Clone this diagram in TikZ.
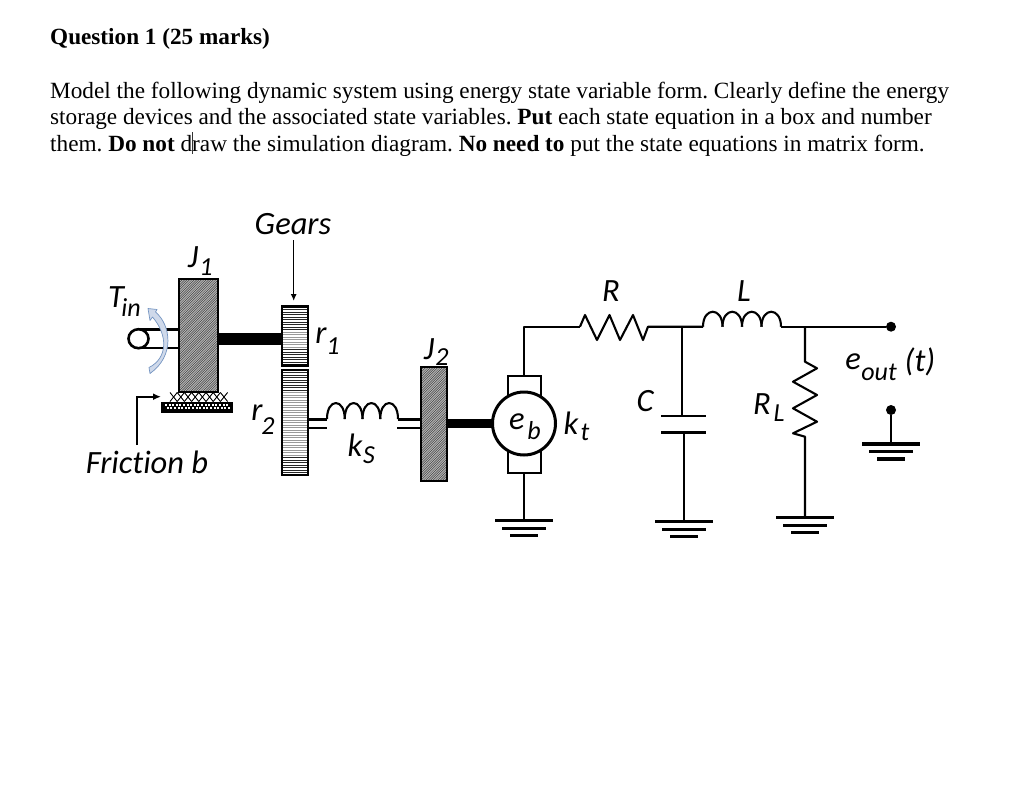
\documentclass[tikz,border=0pt]{standalone}
\usepackage{fontspec}
\setmainfont{Liberation Serif}
\newfontfamily\lab{Carlito}
\usetikzlibrary{shapes.geometric,calc,arrows.meta}
\definecolor{arrowfill}{HTML}{CFD9EA}
\definecolor{arrowline}{HTML}{7595C2}
\tikzset{
  x=1pt,y=-1pt,
  wire/.style={line width=2.1pt,line join=round},
  bar/.style={line width=3.4pt},
  para/.style={anchor=base west,inner sep=0,font=\frenchspacing\fontsize{23.24}{26}\selectfont},
  lbl/.style={inner sep=0,font=\fontsize{32.5}{34}\selectfont\lab\itshape},
  sublbl/.style={inner sep=0,font=\fontsize{26}{28}\selectfont\lab\itshape},
  disc/.style={draw,line width=2.6pt,fill=gray!55,inner sep=0,
    path picture={\foreach \i in {-180,-177.6,...,180}{
      \draw[black!75,line width=.5pt] ([xshift=\i pt]path picture bounding box.center) ++(-120,120) -- ++(240,-240);}}},
  gearbox/.style={draw,line width=2.6pt,fill=white,inner sep=0},
  term/.style={circle,fill=black,inner sep=0,minimum size=10pt},
}
\newcommand{\gnd}[1]{%
  \draw[bar] ([xshift=-29pt]#1) -- ([xshift=29pt]#1);
  \draw[bar] ([xshift=-22pt,yshift=-7.5pt]#1) -- ([xshift=22pt,yshift=-7.5pt]#1);
  \draw[bar] ([xshift=-14pt,yshift=-15pt]#1) -- ([xshift=14pt,yshift=-15pt]#1);
}
\newcommand{\coil}[4]{% x0 x1 base height
  \pgfmathsetmacro{\hw}{(#2-#1)/4}
  \pgfmathsetmacro{\ctl}{#3-(#4)*1.33}
  \foreach \k in {0,1,2,3}{
    \pgfmathsetmacro{\xa}{#1+\k*\hw}
    \pgfmathsetmacro{\xb}{\xa+\hw}
    \draw[wire] (\xa,#3) .. controls (\xa,\ctl) and (\xb,\ctl) .. (\xb,#3);
  }
}
\begin{document}
\begin{tikzpicture}
\useasboundingbox (0,0) rectangle (1024,800);
\fill[white] (0,0) rectangle (1024,800);
% text
\node[para,font=\frenchspacing\fontsize{23.2}{26}\selectfont\bfseries] (title) at (50,45) {Question 1 (25 marks)};
\node[para] (l1) at (50,98) {Model the following dynamic system using energy state variable form. Clearly define the energy};
\node[para] (l2) at (50,124.5) {storage devices and the associated state variables. \textbf{Put} each state equation in a box and number};
\node[para] (l3) at (50,151) {them. \textbf{Do not} draw the simulation diagram. \textbf{No need to} put the state equations in matrix form.};
\draw[line width=.8pt,black!80] (192.5,132) -- (192.5,154);
% J1 and input shaft
\node[disc,minimum width=39pt,minimum height=113pt] (J1) at (198.5,335.5) {};
\coordinate (sa) at (138.5,329.5); \coordinate (sb) at (138.5,348);
\draw[line width=2.4pt] (sa) -- (sa -| J1.west) (sb) -- (sb -| J1.west);
\node[draw,line width=2.6pt,fill=white,ellipse,minimum width=20pt,minimum height=19pt,inner sep=0] (shaftend) at (138.5,338.7) {};
% input torque arrow
\draw[arrowline,fill=arrowfill,line width=.7pt,line join=round] (148,308.5) -- (157,309.5) -- (155.5,312)
  .. controls (171,325) and (175,356) .. (150,373.5) -- (149,367.5)
  .. controls (168,358) and (168,335) .. (152.5,317) -- (150,320.5) -- cycle;
% gears
\node[gearbox,minimum width=26pt,minimum height=59pt] (G1) at (295,336.2) {};
\node[gearbox,minimum width=26pt,minimum height=105pt] (G2) at (295,422.5) {};
\foreach \y in {309.5,312,...,364}{
  \pgfmathsetmacro{\c}{abs(\y-339)<9 ? 40 : 85}
  \draw[black!\c,line width=.8pt] (G1.west |- 0,\y) -- (G1.east |- 0,\y);
}
\foreach \y in {372.5,375,...,473.5}{
  \pgfmathsetmacro{\c}{abs(\y-424)<32 ? 40 : 85}
  \draw[black!\c,line width=.8pt] (G2.west |- 0,\y) -- (G2.east |- 0,\y);
}
\node[gearbox,fill=none,minimum width=26pt,minimum height=59pt] at (G1) {};
\node[gearbox,fill=none,minimum width=26pt,minimum height=105pt] at (G2) {};
% thick shaft J1-G1
\draw[line width=12.5pt] (J1.east |- 0,339) -- (G1.west |- 0,339);
% friction pad
\node[draw,fill=black,line width=0pt,minimum width=71pt,minimum height=10pt,inner sep=0] (pad) at (196.5,407) {};
\foreach \i in {0,...,17}{
  \fill[white] (165+\i*3.6,406.2) rectangle +(2,-1.8);
  \fill[white] (166.8+\i*3.6,409.2) rectangle +(2,-1.8);
}
\foreach \i in {0,...,7}{
  \draw[line width=.9pt] (170+\i*7.2,392.5) -- +(7.2,9);
  \draw[line width=.9pt] (177.2+\i*7.2,392.5) -- +(-7.2,9);
}
% gears arrow
\coordinate (ga) at (293.7,240);
\draw[line width=1.3pt,-{Latex[length=7pt,width=6pt]}] (ga) -- (293.7,301);
% friction arrow
\coordinate (fa) at (136.7,445);
\draw[line width=1.9pt,-{Latex[length=8pt,width=7pt]}] (fa) |- (pad.west |- 0,396.7);
% J2 and spring
\node[disc,minimum width=26pt,minimum height=114pt] (J2) at (434,424) {};
\draw[line width=3pt] (G2.east |- 0,419) -- (327,419) (398,419) -- (J2.west |- 0,419);
\draw[line width=1.8pt] (G2.east |- 0,428) -- (327,428) (397,428) -- (J2.west |- 0,428);
\coil{327}{398}{419}{16}
% motor
\coordinate (mt) at (524,376); \coordinate (mb) at (524,473);
\node[draw,line width=2.4pt,minimum width=33pt,minimum height=97pt,inner sep=0] (brush) at (524.5,424.5) {};
\draw[line width=8.5pt] (J2.east |- 0,423.5) -- (500,423.5);
\node[draw,circle,line width=3pt,fill=white,minimum size=63pt,inner sep=0] (M) at (524,423.5) {};
\coordinate (top) at (524,326.7);
\coordinate (Ra) at (580,326.7); \coordinate (Rb) at (648,326.7);
\coordinate (Cj) at (681.7,326.7);
\coordinate (La) at (703,326.7); \coordinate (Lb) at (781,326.7);
\coordinate (RLj) at (805,326.7);
\node[term] (tp) at (891,326.7) {};
\node[term] (tn) at (891,410) {};
\draw[wire] (brush.north -| mt) -- (top) -- (Ra);
\draw[wire] (Ra) -- (585,315) -- (597,340) -- (609.5,315) -- (620,340) -- (633,315) -- (643,340) -- (Rb) -- (Cj) -- (La);
\coil{703}{781}{326.7}{15}
\draw[wire] (Lb) -- (RLj) -- (tp);
\coordinate (g1) at (524,520.7);
\draw[wire] (brush.south -| mt) -- (g1);
\gnd{g1}
% capacitor
\coordinate (c1) at (681.7,415.7); \coordinate (c2) at (684,432.3); \coordinate (g2) at (684,521.7);
\draw[wire] (Cj) -- (c1) (c2) -- (g2);
\draw[line width=2.4pt] (661,415.7) -- (706,415.7);
\draw[line width=3pt] (661,432.3) -- (706,432.3);
\gnd{g2}
% load
\coordinate (g3) at (805,517.7);
\draw[wire] (RLj) -- (805,361.7) -- (817,368.3) -- (793,381.7) -- (817,395) -- (793,408.3) -- (817,421.7) -- (793,433.3) -- (805,436.7) -- (g3);
\gnd{g3}
% output ground
\coordinate (g4) at (891,444);
\draw[wire] (tn) -- (g4);
\gnd{g4}
% labels
\node[lbl] (tGears) at (293,224) {Gears};
\node[lbl] (tJ1) at (193,257) {J}; \node[sublbl] (tJ1s) at (206,267) {1};
\node[lbl] (tT) at (116,297) {T}; \node[sublbl] (tTs) at (131,308) {in};
\node[lbl] (tr1) at (321,336) {r}; \node[sublbl] (tr1s) at (333,346) {1};
\node[lbl] (tr2) at (257,413) {r}; \node[sublbl] (tr2s) at (268,426) {2};
\node[lbl] (tFb) at (147,462) {Frict\kern0pt ion b};
\node[lbl] (tJ2) at (429,349) {J}; \node[sublbl] (tJ2s) at (442,357) {2};
\node[lbl] (tk) at (355,445) {k}; \node[sublbl] (tks) at (369,455) {S};
\node[lbl] (te) at (517,422) {e}; \node[sublbl] (teb) at (534,431) {b};
\node[lbl] (tkt) at (571,423) {k}; \node[sublbl] (tkts) at (585,432) {t};
\node[lbl] (tR) at (611,291) {R};
\node[lbl] (tL) at (744,291) {L};
\node[lbl] (tC) at (645,401) {C};
\node[lbl] (tRL) at (762,404) {R}; \node[sublbl] (tRLs) at (779,413) {L};
\node[lbl] (teo) at (853,362) {e}; \node[sublbl] (teos) at (879,372) {out};
\node[lbl] (tt) at (920,362) {(t)};
\end{tikzpicture}
\end{document}
